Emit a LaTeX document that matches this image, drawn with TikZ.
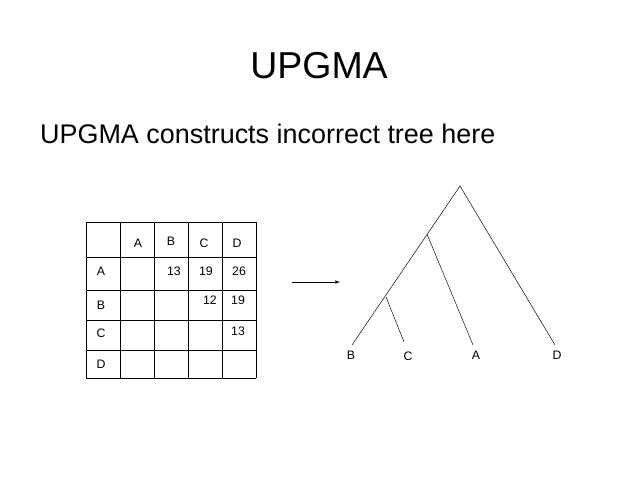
\documentclass[tikz,border=0pt]{standalone}
\usepackage{fontspec}
\setmainfont{Liberation Sans}
\begin{document}
\begin{tikzpicture}[x=0.03cm, y=-0.03cm]
\tikzset{
    cell/.style= {font=\fontsize{10.5}{12}\selectfont, inner sep=0pt},
    leaf/.style= {font=\fontsize{10.5}{12}\selectfont, inner sep=0pt},
    branch/.style= {draw=black, thin},
}
\useasboundingbox (0,0) rectangle (638,478);

\node (title) at (319,66) {\fontsize{32}{36}\selectfont UPGMA};
\node[anchor=west] (sub) at (36,134) {\fontsize{23}{26}\selectfont UPGMA constructs incorrect tree here};

% distance matrix
\foreach \x in {86,120,154,188,222,256}
    \draw[branch] (\x,222) -- (\x,378);
\foreach \y in {222,257,290,320,350,378}
    \draw[branch] (86,\y) -- (256,\y);

\node[cell] (hA) at (138,243) {A};
\node[cell] (hB) at (171,241) {B};
\node[cell] (hC) at (204,243) {C};
\node[cell] (hD) at (237,243) {D};
\node[cell] (rA) at (101,271) {A};
\node[cell] (rB) at (101,305) {B};
\node[cell] (rC) at (101,333) {C};
\node[cell] (rD) at (101,364) {D};
\node[cell] (ab) at (174,271) {13};
\node[cell] (ac) at (206,271) {19};
\node[cell] (ad) at (239,271) {26};
\node[cell] (bc) at (210,300) {12};
\node[cell] (bd) at (238,300) {19};
\node[cell] (cd) at (238,331) {13};

\coordinate (from) at (292,282);
\coordinate (to) at (340,282);
\draw[-latex, branch] (from) -- (to);

% tree
\coordinate (root) at (460,186);
\coordinate (nBCA) at (427,234);
\coordinate (nBC) at (386,297);
\coordinate (eB) at (352,345);
\coordinate (eC) at (404,342);
\coordinate (eA) at (473,345);
\coordinate (eD) at (555,345);

\draw[branch] (root) -- (eB);
\draw[branch] (root) -- (eD);
\draw[branch] (nBCA) -- (eA);
\draw[branch] (nBC) -- (eC);

\node[leaf] (lB) at (351,355) {B};
\node[leaf] (lC) at (408,356) {C};
\node[leaf] (lA) at (476,355) {A};
\node[leaf] (lD) at (557,355) {D};
\end{tikzpicture}
\end{document}
